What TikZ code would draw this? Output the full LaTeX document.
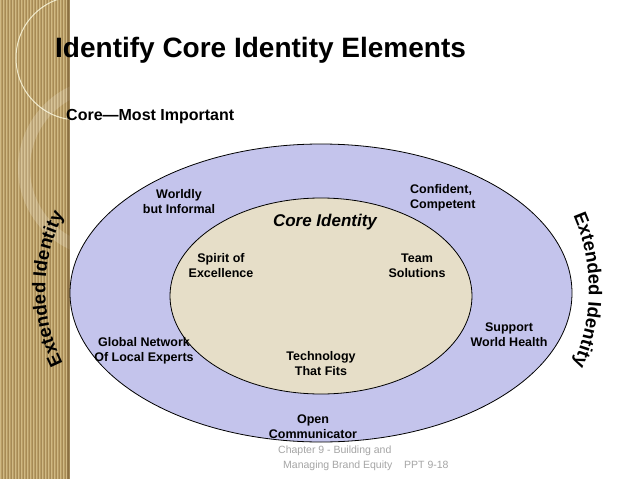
\documentclass[tikz,border=0pt]{standalone}
\usepackage{fontspec}
\setmainfont{Liberation Sans}
\usetikzlibrary{decorations.text,shapes.geometric}
\definecolor{outerfill}{RGB}{196,196,236}
\definecolor{innerfill}{RGB}{230,222,200}
\definecolor{tanbase}{RGB}{186,158,102}
\definecolor{tanlight}{RGB}{230,212,162}
\definecolor{tandark}{RGB}{115,88,48}
\definecolor{footgray}{RGB}{165,165,165}
\begin{document}
\begin{tikzpicture}[x=1pt,y=-1pt,
  lab/.style={font=\bfseries\fontsize{12.5}{15}\selectfont, align=center, inner sep=0, anchor=base},
  ring/.style={ellipse, draw=black, line width=0.8pt, inner sep=0}]
\useasboundingbox (0,0) rectangle (638,479);
\fill[white] (0,0) rectangle (638,479);
% textured side bar
\begin{scope}
\clip (0,0) rectangle (70,479);
\fill[tanbase] (0,0) rectangle (70,479);
\draw[tanlight, line width=1pt, opacity=0.5, shift={(0.5,0.5)}] (-3,-3) grid[step=3] (72,481);
\draw[tandark, line width=1pt, opacity=0.28, shift={(2,2)}] (-3,-3) grid[step=3] (72,481);
\draw[white!90!yellow, line width=1pt, opacity=0.8] (78,58) circle[radius=62];
\draw[white, line width=12pt, opacity=0.18] (108,168) circle[radius=84];
\fill[tandark, opacity=0.5] (67,0) rectangle (70,479);
\end{scope}
% title
\node[font=\bfseries\fontsize{28}{28}\selectfont, anchor=base west, inner sep=0] (title) at (55,57) {Identify Core Identity Elements};
\node[font=\bfseries\fontsize{16}{16}\selectfont, anchor=base west, inner sep=0] (sub) at (66,120) {Core---Most Important};
% ellipses
\node[ring, fill=outerfill, minimum width=502, minimum height=298] (outer) at (321,293) {};
\node[ring, fill=innerfill, minimum width=302, minimum height=196] (inner) at (321,296) {};
% labels (anchor base = baseline of last line)
\node[lab] (worldly) at (179,213) {Worldly\\but Informal};
\node[lab, align=left, anchor=base west] (confident) at (410,208) {Confident,\\Competent};
\node[font=\bfseries\itshape\fontsize{17}{17}\selectfont, inner sep=0, anchor=base] (core) at (325,226) {Core Identity};
\node[lab] (spirit) at (221,277) {Spirit of\\Excellence};
\node[lab] (team) at (417,277) {Team\\Solutions};
\node[lab] (global) at (144,361) {Global Network\\Of Local Experts};
\node[lab] (tech) at (321,375) {Technology\\That Fits};
\node[lab] (support) at (509,346) {Support\\World Health};
\node[lab] (open) at (313,438) {Open\\Communicator};
% footer
\node[font=\fontsize{10.5}{15}\selectfont, text=footgray, align=left, anchor=base west, inner sep=0] (footer) at (278,468) {Chapter 9 - Building and\\\hspace{5pt}Managing Brand Equity};
\node[font=\fontsize{10.5}{15}\selectfont, text=footgray, anchor=base west, inner sep=0] (ppt) at (404,468) {PPT 9-18};
% curved side texts
\path[decorate, decoration={text along path, text align=center,
  text={|\bfseries\fontsize{18.5}{18.5}\selectfont|Extended Identity}}]
  (62,361) arc[start angle=153.7, end angle=207, radius=161];
\path[decorate, decoration={text along path, text align=center,
  text={|\bfseries\fontsize{18.5}{18.5}\selectfont|Extended Identity}}]
  (574,217) arc[start angle=-23.2, end angle=23.3, radius=185];
\end{tikzpicture}
\end{document}
